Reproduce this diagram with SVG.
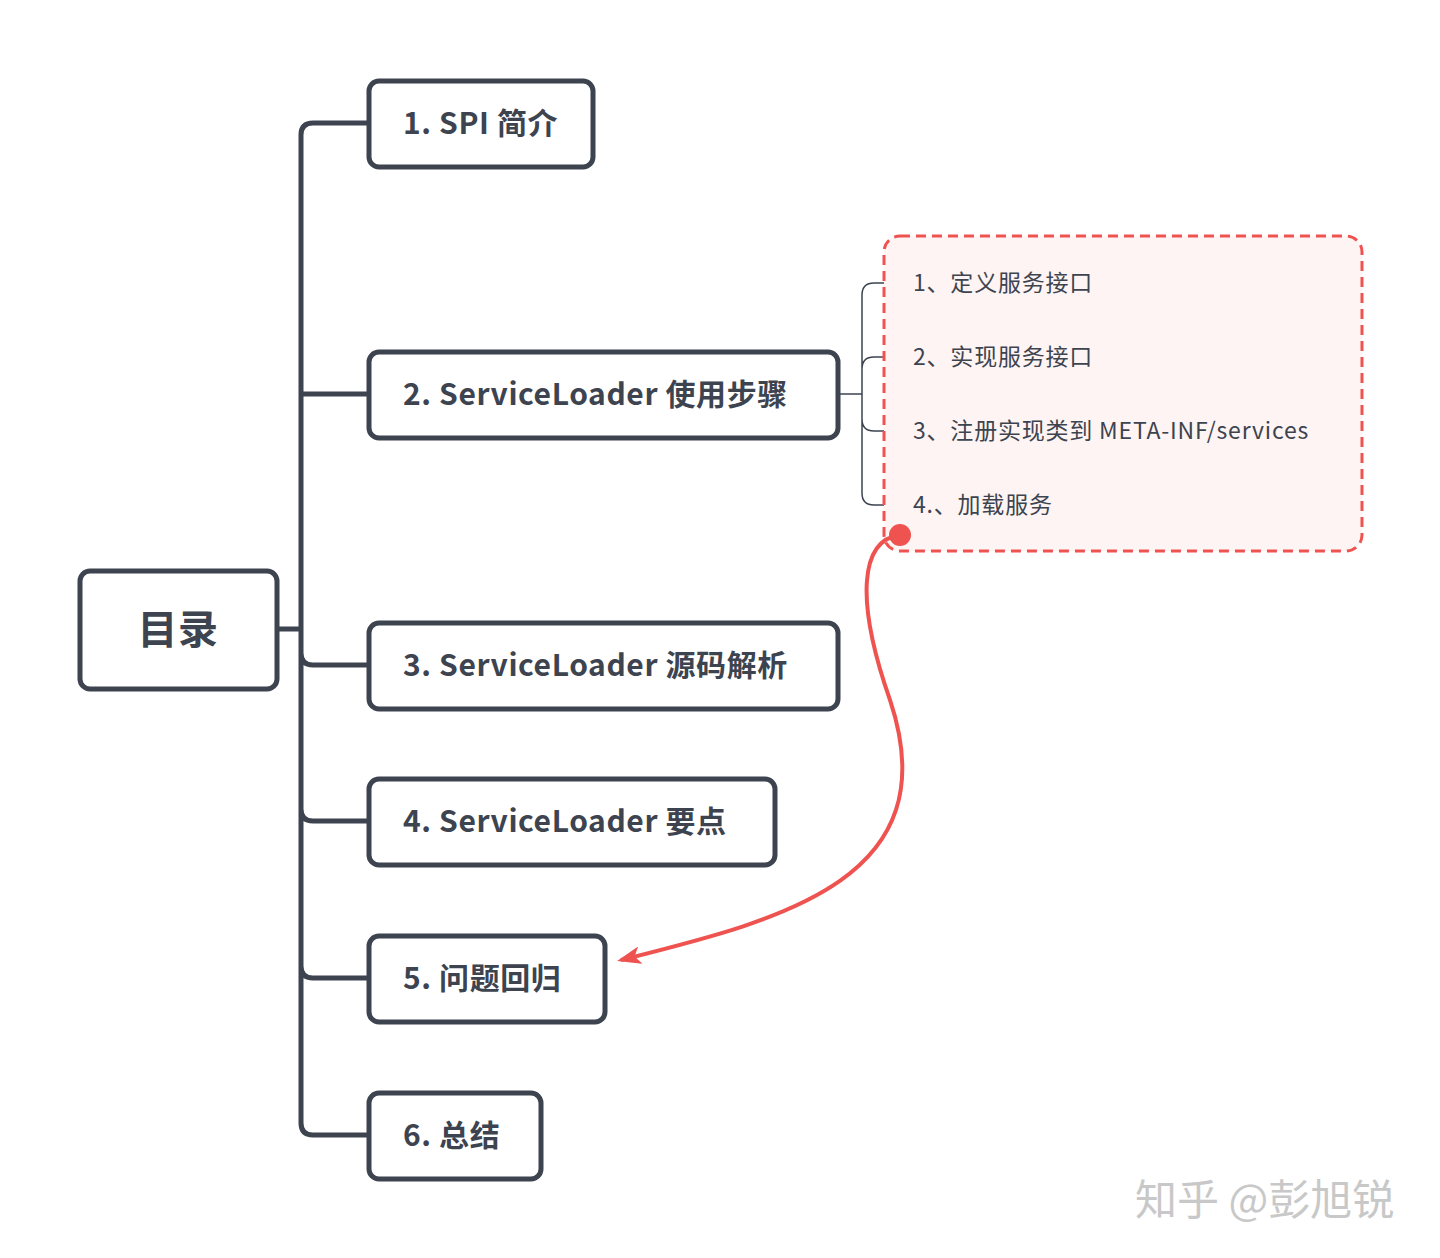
<svg xmlns="http://www.w3.org/2000/svg" width="1440" height="1258" viewBox="0 0 1440 1258">
<style>
.box{fill:#fff;stroke:#3d4450;stroke-width:5}
.t{font-family:"Noto Sans CJK SC","Noto Sans",sans-serif;font-weight:bold;fill:#3d4450;font-size:30px;letter-spacing:0.6px}
.s{font-family:"Noto Sans CJK SC","Noto Sans",sans-serif;fill:#3d4450;font-size:23px;letter-spacing:0.8px}
.ln{fill:none;stroke:#3d4450;stroke-width:5}
.thin{fill:none;stroke:#3d4450;stroke-width:1.5}
</style>
<defs><marker id="ar" markerWidth="24" markerHeight="18" refX="20" refY="9" orient="auto" markerUnits="userSpaceOnUse" viewBox="0 0 24 18"><path d="M0,0 L24,9 L0,18 L6,9 Z" fill="#ef5350"/></marker></defs>
<rect width="1440" height="1258" fill="#fff"/>
<g id="connectors">
<path class="ln" d="M277,629 H301 M369,123 H313 Q301,123 301,135 V1123 Q301,1135 313,1135 H369 M301,394 H369 M301,653 Q301,665 313,665 H369 M301,809 Q301,821 313,821 H369 M301,966 Q301,978 313,978 H369"/>
<path class="thin" d="M838,394 H862 M905,283 H874 Q862,283 862,295 V493 Q862,505 874,505 H905 M862,369 Q862,357 874,357 H905 M862,419 Q862,431 874,431 H905"/>
</g>
<g id="group"><rect x="884" y="236" width="478" height="315" rx="16" fill="#fdf4f3" stroke="#ef5350" stroke-width="3" stroke-dasharray="10,6"/></g>
<g id="root"><rect class="box" x="80" y="571" width="197" height="118" rx="10"/><text class="t" x="178" y="644" style="font-size:40px" text-anchor="middle">目录</text></g>
<g id="n1"><rect class="box" x="369" y="81" width="224" height="86" rx="10"/><text class="t" x="403" y="134">1. SPI 简介</text></g>
<g id="n2"><rect class="box" x="369" y="352" width="469" height="86" rx="10"/><text class="t" x="403" y="405">2. ServiceLoader 使用步骤</text></g>
<g id="n3"><rect class="box" x="369" y="623" width="469" height="86" rx="10"/><text class="t" x="403" y="676">3. ServiceLoader 源码解析</text></g>
<g id="n4"><rect class="box" x="369" y="779" width="406" height="86" rx="10"/><text class="t" x="403" y="832">4. ServiceLoader 要点</text></g>
<g id="n5"><rect class="box" x="369" y="936" width="236" height="86" rx="10"/><text class="t" x="403" y="989">5. 问题回归</text></g>
<g id="n6"><rect class="box" x="369" y="1093" width="172" height="86" rx="10"/><text class="t" x="403" y="1146">6. 总结</text></g>
<g id="subs">
<text class="s" x="913" y="291">1、定义服务接口</text>
<text class="s" x="913" y="365">2、实现服务接口</text>
<text class="s" x="913" y="439">3、注册实现类到 META-INF/services</text>
<text class="s" x="913" y="513">4.、加载服务</text>
</g>
<g id="link">
<path d="M900,535 C860,540 855,600 890,700 C950,880 780,920 621,960" fill="none" stroke="#ef5350" stroke-width="4" marker-end="url(#ar)"/>
<circle cx="900" cy="535" r="11" fill="#ef5350"/>
</g>
<text x="1135" y="1215" font-family="Noto Sans CJK SC,sans-serif" font-size="42" fill="#c8c8c8">知乎 @彭旭锐</text>
</svg>
